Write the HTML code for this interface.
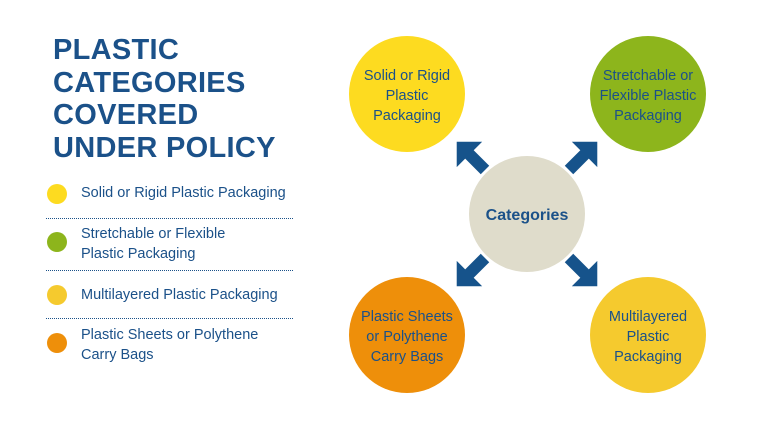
<!DOCTYPE html>
<html><head><meta charset="utf-8"><style>
body{margin:0;width:768px;height:425px;background:#fff;overflow:hidden;position:relative;font-family:"Liberation Sans",sans-serif;color:#1b5189}
.t{position:absolute;left:53px;top:34px;font-weight:bold;font-size:29px;line-height:32.5px;letter-spacing:0.3px}
.dot{position:absolute;width:20px;height:20px;border-radius:50%;left:47px}
.li{position:absolute;left:81px;font-size:14.5px;line-height:20px}
.hr{position:absolute;left:46px;width:247px;border-top:1px dotted #1b5189}
</style></head><body>
<div class="t">PLASTIC<br>CATEGORIES<br>COVERED<br>UNDER POLICY</div>
<div class="dot" style="top:184px;background:#fddb20"></div>
<div class="li" style="top:183px">Solid or Rigid Plastic Packaging</div>
<div class="hr" style="top:218px"></div>
<div class="dot" style="top:232px;background:#8db51c"></div>
<div class="li" style="top:224px">Stretchable or Flexible<br>Plastic Packaging</div>
<div class="hr" style="top:270px"></div>
<div class="dot" style="top:285px;background:#f5ca2e"></div>
<div class="li" style="top:285px">Multilayered Plastic Packaging</div>
<div class="hr" style="top:318px"></div>
<div class="dot" style="top:333px;background:#ee8f0a"></div>
<div class="li" style="top:325px">Plastic Sheets or Polythene<br>Carry Bags</div>
<svg width="768" height="425" style="position:absolute;left:0;top:0" font-family="Liberation Sans,sans-serif">
<circle cx="407" cy="94" r="58" fill="#fddb20"/>
<circle cx="648" cy="94" r="58" fill="#8db51c"/>
<circle cx="407" cy="335" r="58" fill="#ee8f0a"/>
<circle cx="648" cy="335" r="58" fill="#f5ca2e"/>
<circle cx="527" cy="214" r="58" fill="#dfdccb"/>
<g fill="#16538b">
<polygon points="0,-6 22,-6 22,-18 40,0 22,18 22,6 0,6" transform="translate(485,170) rotate(-135)"/>
<polygon points="0,-6 22,-6 22,-18 40,0 22,18 22,6 0,6" transform="translate(569,170) rotate(-45)"/>
<polygon points="0,-6 22,-6 22,-18 40,0 22,18 22,6 0,6" transform="translate(485,258) rotate(135)"/>
<polygon points="0,-6 22,-6 22,-18 40,0 22,18 22,6 0,6" transform="translate(569,258) rotate(45)"/>
</g>
<g fill="#1b5189" font-size="14.5" text-anchor="middle">
<text x="407" y="80">Solid or Rigid</text><text x="407" y="100">Plastic</text><text x="407" y="120">Packaging</text>
<text x="648" y="80">Stretchable or</text><text x="648" y="100">Flexible Plastic</text><text x="648" y="120">Packaging</text>
<text x="407" y="321">Plastic Sheets</text><text x="407" y="341">or Polythene</text><text x="407" y="361">Carry Bags</text>
<text x="648" y="321">Multilayered</text><text x="648" y="341">Plastic</text><text x="648" y="361">Packaging</text>
<text x="527" y="220" font-weight="bold" font-size="16">Categories</text>
</g>
</svg>
</body></html>
